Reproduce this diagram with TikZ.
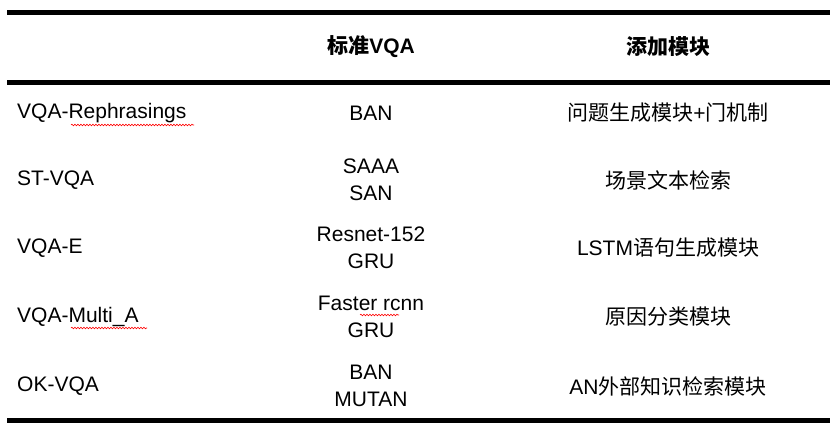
\documentclass[tikz,border=0pt]{standalone}
\usepackage{fontspec}
\setmainfont{Liberation Sans}
\newfontfamily\cjk{Noto Sans CJK SC}
\usetikzlibrary{decorations.pathmorphing}
\begin{document}
\begin{tikzpicture}[x=1pt,y=-1pt,
  cell/.style={inner sep=0pt,font=\fontsize{21}{27}\selectfont,align=center},
  lcell/.style={cell,anchor=west},
  head/.style={cell,font=\fontsize{21}{27}\selectfont\bfseries},
  rule/.style={line width=5pt,black},
  spell/.style={red,line width=0.6pt,decorate,decoration={snake,amplitude=0.8pt,segment length=3pt}}]
\useasboundingbox (0,0) rectangle (837,431);
\coordinate (t1) at (7,12.5); \coordinate (t2) at (830,12.5);
\coordinate (h1) at (7,82.5); \coordinate (h2) at (830,82.5);
\coordinate (b1) at (7,420.5); \coordinate (b2) at (830,420.5);
\draw[rule] (t1) -- (t2);
\draw[rule] (h1) -- (h2);
\draw[rule] (b1) -- (b2);
\node[head] (hA) at (371,47) {{\cjk\bfseries 标准}VQA};
\node[head] (hB) at (668,47) {{\cjk\bfseries 添加模块}};
\node[lcell] (r1) at (17,113) {VQA-Rephrasings};
\node[lcell] (r2) at (17,180) {ST-VQA};
\node[lcell] (r3) at (17,248) {VQA-E};
\node[lcell] (r4) at (17,317) {VQA-Multi\_A};
\node[lcell] (r5) at (17,386) {OK-VQA};
\node[cell] (s1) at (371,113) {BAN};
\node[cell] (s2) at (371,180) {SAAA\\SAN};
\node[cell] (s3) at (371,248) {Resnet-152\\GRU};
\node[cell] (s4) at (371,317) {Faster rcnn\\GRU};
\node[cell] (s5) at (371,386) {BAN\\MUTAN};
\node[cell] (m1) at (668,113) {{\cjk 问题生成模块}+{\cjk 门机制}};
\node[cell] (m2) at (668,180) {{\cjk 场景文本检索}};
\node[cell] (m3) at (668,248) {LSTM{\cjk 语句生成模块}};
\node[cell] (m4) at (668,317) {{\cjk 原因分类模块}};
\node[cell] (m5) at (668,386) {AN{\cjk 外部知识检索模块}};
\coordinate (w1a) at (71,125); \coordinate (w1b) at (194,125);
\coordinate (w2a) at (360,315); \coordinate (w2b) at (399,315);
\coordinate (w3a) at (71,328); \coordinate (w3b) at (147,328);
\draw[spell] (w1a) -- (w1b);
\draw[spell] (w2a) -- (w2b);
\draw[spell] (w3a) -- (w3b);
\end{tikzpicture}
\end{document}
